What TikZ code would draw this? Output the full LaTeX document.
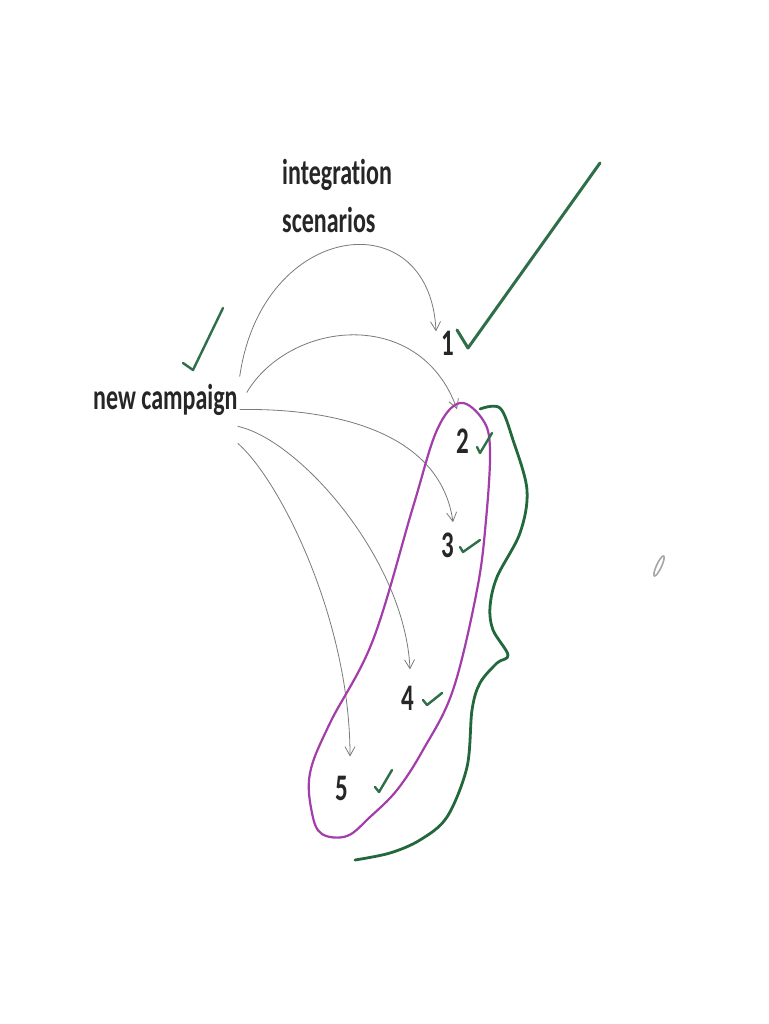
\documentclass[tikz,border=0pt]{standalone}
\usepackage{fontspec}
\setmainfont{Carlito}[Ligatures=NoCommon]
\usetikzlibrary{arrows.meta}
\definecolor{chk}{HTML}{2E6E48}
\definecolor{grn}{HTML}{22683C}
\definecolor{pur}{HTML}{A23DAA}
\definecolor{arrg}{HTML}{7A7A7A}
\begin{document}
\begin{tikzpicture}[x=1pt,y=-1pt,
 lbl/.style={inner sep=0pt, font=\fontsize{24}{32}\selectfont\bfseries, text=black!85, anchor=base west},
 num/.style={inner sep=0pt, font=\fontsize{25}{30}\selectfont\bfseries, text=black!85, anchor=base},
 conn/.style={draw=arrg, line width=0.8pt, -{Straight Barb[length=9pt,width=10pt]}},
 tick/.style={draw=chk, line width=2.4pt, line cap=round, line join=round},
 loopline/.style={draw=pur, line width=2.2pt},
 hull/.style={draw=grn, line width=2.8pt, line cap=round, line join=round}]
\useasboundingbox[fill=white] (0,0) rectangle (768,1024);

% labels
\node[lbl] (is) at (282,233) {\scalebox{1}[1.5]{\begin{tabular}[b]{@{}l@{}}integration\\scenarios\end{tabular}}};
\node[lbl] (nc) at (93,409) {\scalebox{1}[1.5]{new campaign}};
\node[num] (n1) at (448,355) {\scalebox{1}[1.5]{1}};
\node[num] (n2) at (463,453) {\scalebox{1}[1.5]{2}};
\node[num] (n3) at (448,557) {\scalebox{1}[1.5]{3}};
\node[num] (n4) at (408,710) {\scalebox{1}[1.5]{4}};
\node[num] (n5) at (342,800) {\scalebox{1}[1.5]{5}};

% connectors
\draw[conn] ([shift={(2,-7)}]nc.north east) .. controls (262,220) and (430,200) .. ([shift={(-12,1)}]n1.north);
\draw[conn] ([shift={(9,9)}]nc.north east) .. controls (290,320) and (420,306) .. ([shift={(-6,-19)}]n2.north);
\draw[conn] ([shift={(2,26)}]nc.north east) .. controls (330,408) and (440,430) .. ([shift={(5,-10)}]n3.north);
\draw[conn] ([shift={(0,11)}]nc.south east) .. controls (300,440) and (405,560) .. ([shift={(2,-16)}]n4.north);
\draw[conn] ([shift={(0,28)}]nc.south east) .. controls (280,480) and (350,620) .. ([shift={(8,-19)}]n5.north);

% purple loop
\draw[loopline] plot[smooth cycle, tension=0.6] coordinates {
 (460,403) (483,420) (490,450) (486,520) (477,590) (453,690) (423,750) (397,790) (370,817) (347,836) (322,834) (312,813) (310,773) (330,723) (373,640) (413,507) (437,430)};

% green hull
\draw[hull] plot[smooth, tension=0.55] coordinates {
 (480,409) (500,408) (513,440) (527,490) (520,533) (497,577) (490,607) (493,630) (508,655) (497,663) (480,683) (472,710) (467,767) (447,817) (420,840) (390,853) (355,860)};

% checks
\draw[tick, line width=3pt] (457,330) -- (468,348) -- (600,163);
\draw[tick] (183,363) -- (193,370) -- (223,308);
\draw[tick] (477,447) -- (480,453) -- (492,433);
\draw[tick] (460,547) -- (463,552) -- (480,540);
\draw[tick] (423,700) -- (427,705) -- (442,693);
\draw[tick] (375,787) -- (379,792) -- (392,770);

% stray mark
\draw[gray!70, line width=1.6pt, rotate around={-25:(659,566)}] (659,566) ellipse [x radius=2.5, y radius=11];
\end{tikzpicture}
\end{document}
